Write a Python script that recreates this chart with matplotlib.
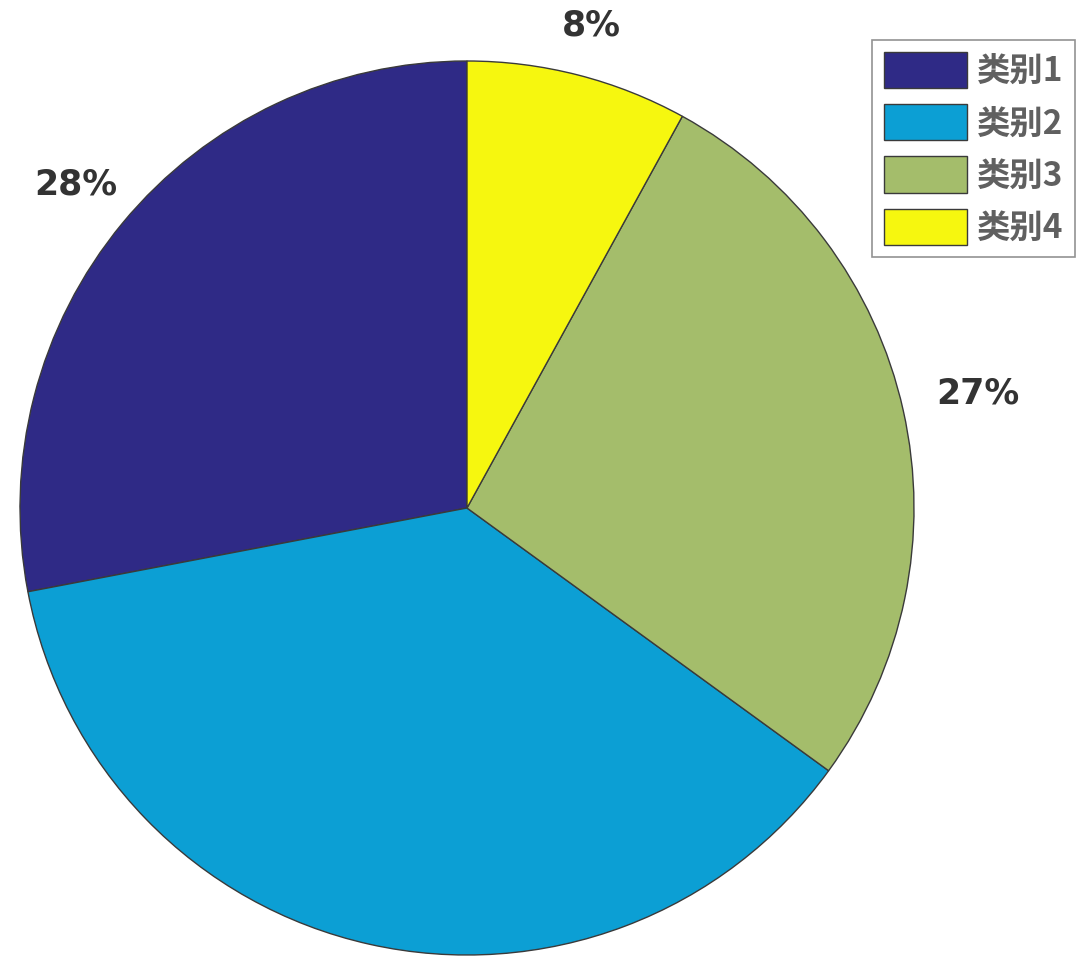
import matplotlib
matplotlib.use("Agg")
import matplotlib.pyplot as plt

plt.rcParams['font.family'] = ['Noto Sans CJK SC', 'DejaVu Sans']

categories = ['类别1', '类别2', '类别3', '类别4']
values = [28, 37, 27, 8]
colors = ['#2f2a86', '#0c9fd4', '#a4bd6b', '#f6f70f']

fig = plt.figure(figsize=(10.8, 9.59), dpi=100)
ax = fig.add_axes([0, 0, 1, 1])

# pie center at (467, 508) px, radius 447 px
r_px = 447.0
cx, cy = 467.0, 959.0 - 508.0

wedges, texts = ax.pie(values, colors=colors, startangle=90, counterclock=True,
                       labels=[f'{v}%' for v in values], labeldistance=1.14,
                       wedgeprops=dict(edgecolor='#3a3a3a', linewidth=1.0),
                       textprops=dict(fontsize=25, fontweight='bold', color='#333333',
                                      family='DejaVu Sans'))
# small per-label radial tweaks
label_dist = [1.135, 1.14, 1.17, 1.115]
for t, d in zip(texts, label_dist):
    x, y = t.get_position()
    t.set_position((x * d / 1.14, y * d / 1.14))
    t.set_ha('center')
    t.set_va('center')

ax.set_xlim(-cx / r_px, (1080 - cx) / r_px)
ax.set_ylim(-cy / r_px, (959 - cy) / r_px)
ax.set_aspect('equal')
ax.axis('off')

leg = fig.legend(wedges, categories, loc='upper right',
                 bbox_to_anchor=(1075 / 1080, 1 - 40 / 959),
                 fontsize=24, frameon=True, fancybox=False, edgecolor='#777777',
                 handlelength=2.5, handleheight=1.3, handletextpad=0.3,
                 labelspacing=0.48, borderpad=0.35, borderaxespad=0)
leg.get_frame().set_linewidth(1.2)
for txt in leg.get_texts():
    txt.set_color('#606060')
    txt.set_fontweight('bold')

fig.savefig('out.png', dpi=100)
